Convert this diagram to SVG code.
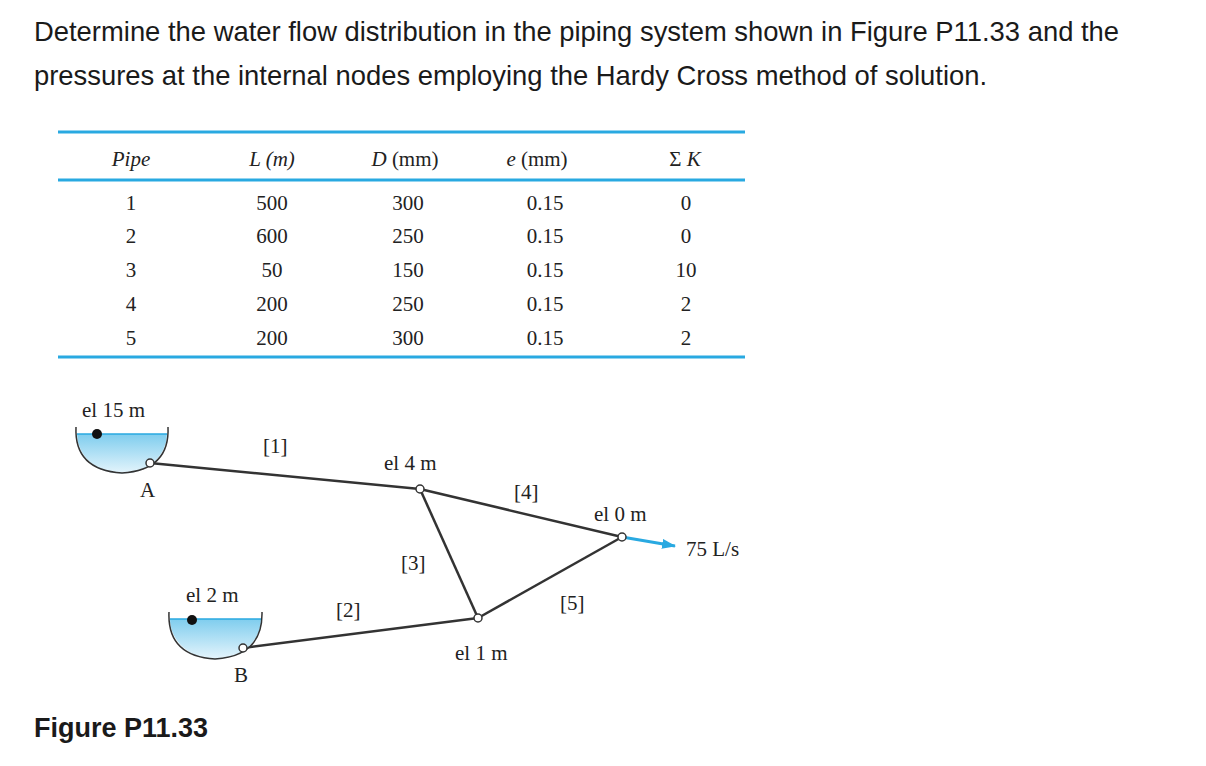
<svg xmlns="http://www.w3.org/2000/svg" width="1206" height="766" viewBox="0 0 1206 766">
<defs>
<linearGradient id="w" x1="0" y1="0" x2="0" y2="1"><stop offset="0" stop-color="#7fcdee"/><stop offset="1" stop-color="#e6f5fc"/></linearGradient>
<marker id="ar" markerWidth="14" markerHeight="10" refX="13" refY="5" orient="auto" markerUnits="userSpaceOnUse"><path d="M0,0 L14,5 L0,10 z" fill="#29a9e1"/></marker>
</defs>
<style>
.q{font-family:"Liberation Sans",Arial,sans-serif;font-size:27.4px;fill:#1a1a1a}
.t{font-family:"Liberation Serif","Times New Roman",serif;font-size:21px;fill:#222}
.h{font-style:italic}
.bl{stroke:#29a9e1;stroke-width:3}
.p{stroke:#333;stroke-width:2.5;fill:none}
.n{fill:#fff;stroke:#333;stroke-width:1.5}
.r{stroke:#333;stroke-width:1.5}
</style>
<rect width="1206" height="766" fill="#fff"/>
<text class="q" x="34" y="41">Determine the water flow distribution in the piping system shown in Figure P11.33 and the</text>
<text class="q" x="34" y="85">pressures at the internal nodes employing the Hardy Cross method of solution.</text>
<g id="table">
<line class="bl" x1="58" y1="132" x2="745" y2="132"/>
<line class="bl" x1="58" y1="180" x2="745" y2="180"/>
<line class="bl" x1="58" y1="357" x2="745" y2="357"/>
<g class="t" text-anchor="middle">
<text class="h" x="131" y="166">Pipe</text><text class="h" x="272" y="166">L (m)</text><text x="405" y="166"><tspan font-style="italic">D</tspan> (mm)</text><text x="537" y="166"><tspan font-style="italic">e</tspan> (mm)</text><text x="685" y="166">Σ <tspan font-style="italic">K</tspan></text>
<text x="131" y="210">1</text><text x="272" y="210">500</text><text x="408" y="210">300</text><text x="545" y="210">0.15</text><text x="686" y="210">0</text>
<text x="131" y="243">2</text><text x="272" y="243">600</text><text x="408" y="243">250</text><text x="545" y="243">0.15</text><text x="686" y="243">0</text>
<text x="131" y="277">3</text><text x="272" y="277">50</text><text x="408" y="277">150</text><text x="545" y="277">0.15</text><text x="686" y="277">10</text>
<text x="131" y="311">4</text><text x="272" y="311">200</text><text x="408" y="311">250</text><text x="545" y="311">0.15</text><text x="686" y="311">2</text>
<text x="131" y="345">5</text><text x="272" y="345">200</text><text x="408" y="345">300</text><text x="545" y="345">0.15</text><text x="686" y="345">2</text>
</g>
</g>
<g id="connectors">
<line class="p" x1="150" y1="463" x2="420" y2="489"/>
<line class="p" x1="243" y1="648" x2="478" y2="618"/>
<line class="p" x1="420" y1="489" x2="478" y2="618"/>
<line class="p" x1="420" y1="489" x2="622" y2="537"/>
<line class="p" x1="478" y1="618" x2="622" y2="537"/>
<line x1="622" y1="537" x2="675" y2="546" stroke="#29a9e1" stroke-width="3" marker-end="url(#ar)"/>
</g>
<g id="resA">
<path d="M77,434 L167,434 A45,40 0 0 1 77,434 z" fill="url(#w)"/>
<line x1="77" y1="434" x2="167" y2="434" stroke="#29a9e1" stroke-width="1.5"/>
<path class="r" fill="none" d="M76,427 Q74,470 122,473 Q170,470 168,427"/>
<circle cx="97" cy="434" r="5" fill="#111"/>
<circle class="n" cx="150" cy="463" r="4"/>
<text class="t" x="82" y="417">el 15 m</text><text class="t" x="140" y="497">A</text>
</g>
<g id="resB">
<path d="M170,619 L261,619 A45,40 0 0 1 170,619 z" fill="url(#w)"/>
<line x1="170" y1="619" x2="261" y2="619" stroke="#29a9e1" stroke-width="1.5"/>
<path class="r" fill="none" d="M169,612 Q167,656 215,659 Q263,656 262,612"/>
<circle cx="192" cy="620" r="5" fill="#111"/>
<circle class="n" cx="243" cy="648" r="4"/>
<text class="t" x="186" y="602">el 2 m</text><text class="t" x="234" y="682">B</text>
</g>
<g id="n1"><circle class="n" cx="420" cy="489" r="4"/><text class="t" x="384" y="470">el 4 m</text></g>
<g id="n2"><circle class="n" cx="478" cy="618" r="4"/><text class="t" x="455" y="660">el 1 m</text></g>
<g id="n3"><circle class="n" cx="622" cy="537" r="4"/><text class="t" x="594" y="521">el 0 m</text><text class="t" x="686" y="556">75 L/s</text></g>
<g id="labels" class="t">
<text x="263" y="453">[1]</text><text x="336" y="617">[2]</text><text x="401" y="570">[3]</text><text x="514" y="499">[4]</text><text x="560" y="610">[5]</text>
</g>
<text x="34" y="737" font-family="Liberation Sans,Arial,sans-serif" font-weight="bold" font-size="27" fill="#1a1a1a">Figure P11.33</text>
</svg>
